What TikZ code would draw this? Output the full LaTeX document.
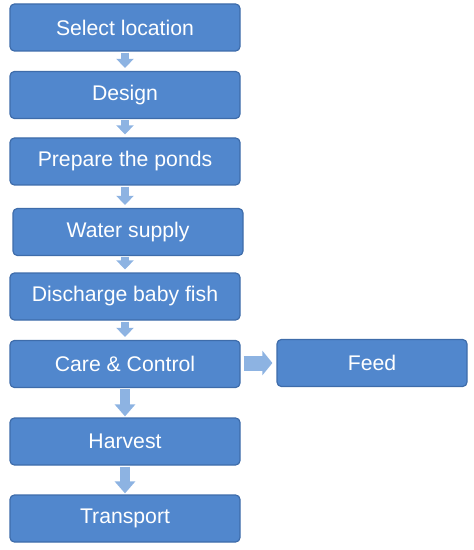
\documentclass[tikz,border=0pt]{standalone}
\usepackage{fontspec}
\setmainfont{Liberation Sans}
\usetikzlibrary{arrows.meta}
\definecolor{boxblue}{RGB}{81,135,205}
\definecolor{boxline}{RGB}{62,108,170}
\definecolor{arrowblue}{RGB}{141,179,226}
\begin{document}
\begin{tikzpicture}[x=0.5pt, y=-0.5pt,
    stage/.style={draw=boxline, line width=0.6pt, fill=boxblue, rounded corners=2.2pt,
        minimum width=115pt, minimum height=23.5pt, inner sep=0pt,
        text=white, font=\fontsize{10.6}{12}\selectfont},
    flow/.style={draw=arrowblue, line width=4pt, -{Triangle[width=8.5pt, length=4.5pt]},
        shorten <=0.5pt, shorten >=1.5pt},
    bigflow/.style={draw=arrowblue, line width=5pt, -{Triangle[width=10pt, length=6pt]},
        shorten <=0.5pt, shorten >=0.5pt}]
    \useasboundingbox (0,0) rectangle (474,550);
    % main column
    \node[stage] (loc) at (125,27.5) {Select location};
    \node[stage] (design) at (125,95) {Design};
    \node[stage] (ponds) at (125,161.5) {Prepare the ponds};
    \node[stage] (water) at (128,232) {Water supply};
    \node[stage] (fish) at (125,296.5) {Discharge baby fish};
    \node[stage] (care) at (125,364) {Care \& Control};
    \node[stage] (harvest) at (125,441.5) {Harvest};
    \node[stage] (transport) at (125,518.5) {Transport};
    % side box
    \node[stage, minimum width=95pt] (feed) at (372,363) {Feed};
    % arrows
    \draw[flow] (loc) -- (design);
    \draw[flow] (design) -- (ponds);
    \draw[flow] (ponds.south) -- (ponds.south |- water.north);
    \draw[flow] (water.south -| fish.north) -- (fish);
    \draw[flow] (fish) -- (care);
    \draw[bigflow] (care) -- (harvest);
    \draw[bigflow] (harvest) -- (transport);
    \draw[draw=arrowblue, line width=7.5pt, -{Triangle[width=12pt, length=5pt]},
        shorten <=1.5pt, shorten >=2pt] (care.east |- feed) -- (feed);
\end{tikzpicture}
\end{document}
